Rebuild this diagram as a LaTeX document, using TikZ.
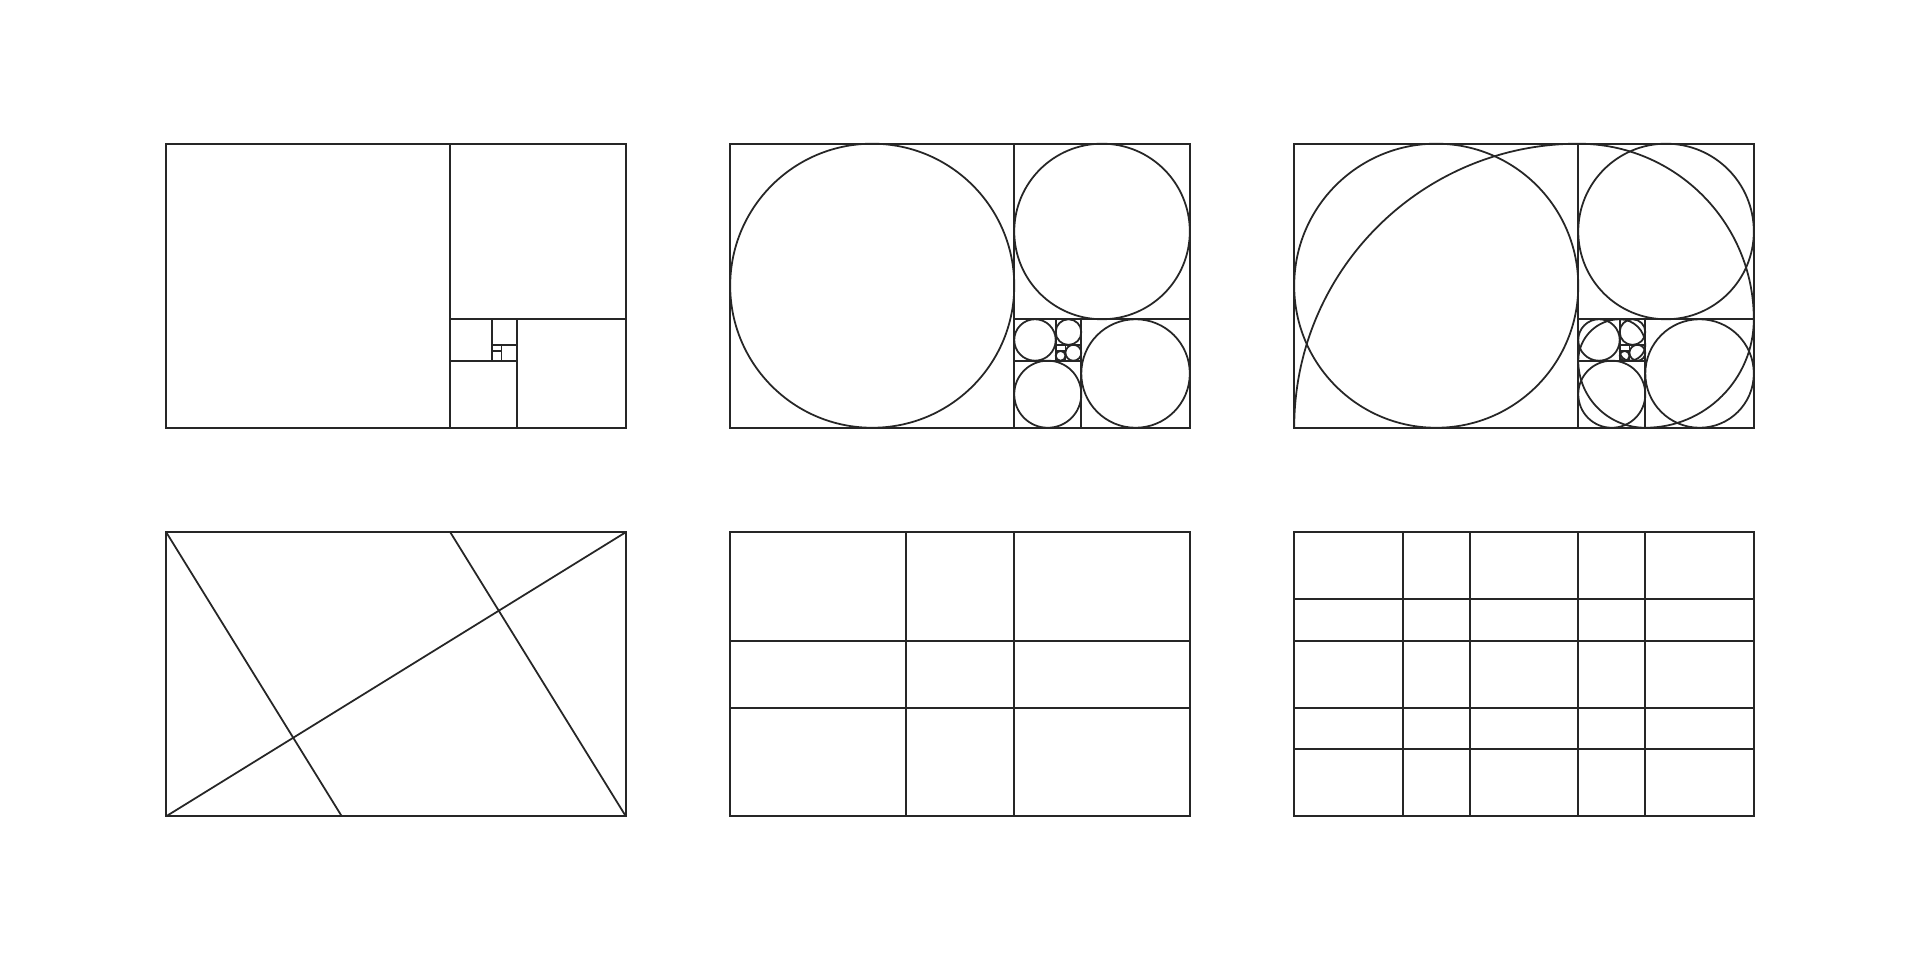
\documentclass[tikz,border=0pt]{standalone}
\newcommand\goldsquares{%
  \draw[ln] (0,0) rectangle (459.6,284.05);
  \draw[ln] (284.05,0) -- (284.05,284.05);
  \draw[ln] (284.05,175.55) -- (459.6,175.55);
  \draw[ln] (351.1,175.55) -- (351.1,284.05);
  \draw[ln] (284.05,217.0) -- (351.1,217.0);
  \draw[ln] (325.49,175.55) -- (325.49,217.0);
  \draw[ln] (325.49,201.16) -- (351.1,201.16);
  \draw[ln] (335.27,201.16) -- (335.27,217.0);
  \draw[ln] (325.49,207.22) -- (335.27,207.22);
}
\newcommand\goldcircles{%
  \draw[ln] (142.025,142.025) circle[radius=142.025];
  \draw[ln] (371.825,87.775) circle[radius=87.775];
  \draw[ln] (405.35,229.8) circle[radius=54.25];
  \draw[ln] (317.575,250.525) circle[radius=33.525];
  \draw[ln] (304.77,196.27) circle[radius=20.72];
  \draw[ln] (338.295,188.355) circle[radius=12.805];
  \draw[ln] (343.185,209.075) circle[radius=7.915];
  \draw[ln] (330.38,212.11) circle[radius=4.89];
}
\begin{document}
\begin{tikzpicture}[x=0.25mm,y=-0.25mm,
  ln/.style={draw=black!85, line width=0.44mm, line join=miter}]
\useasboundingbox (0,0) rectangle (1920,960);
\fill[white] (0,0) rectangle (1920,960);

% Panel 1: golden rectangle subdivision
\begin{scope}[shift={(166.2,143.7)}]
  \goldsquares
\end{scope}

% Panel 2: circles in squares
\begin{scope}[shift={(730.2,143.7)}]
  \goldsquares
  \goldcircles
\end{scope}

% Panel 3: circles and golden spiral
\begin{scope}[shift={(1294.2,143.7)}]
  \goldsquares
  \goldcircles
  \draw[ln] (0,284.05)
    arc[start angle=180, end angle=270, radius=284.05]
    arc[start angle=270, end angle=360, radius=175.55]
    arc[start angle=0, end angle=90, radius=108.5]
    arc[start angle=90, end angle=180, radius=67.05]
    arc[start angle=180, end angle=270, radius=41.44]
    arc[start angle=270, end angle=360, radius=25.61]
    arc[start angle=0, end angle=90, radius=15.83]
    arc[start angle=90, end angle=180, radius=9.78];
\end{scope}

% Panel 4: golden triangles
\begin{scope}[shift={(166.2,532.2)}]
  \draw[ln] (0,0) rectangle (459.6,284.05);
  \draw[ln] (0,284.05) -- (459.6,0);
  \draw[ln] (0,0) -- (175.55,284.05);
  \draw[ln] (284.05,0) -- (459.6,284.05);
\end{scope}

% Panel 5: phi grid
\begin{scope}[shift={(730.2,532.2)}]
  \draw[ln] (0,0) rectangle (459.6,284.05);
  \draw[ln] (175.55,0) -- (175.55,284.05);
  \draw[ln] (284.05,0) -- (284.05,284.05);
  \draw[ln] (0,108.5) -- (459.6,108.5);
  \draw[ln] (0,175.55) -- (459.6,175.55);
\end{scope}

% Panel 6: extended phi grid
\begin{scope}[shift={(1294.2,532.2)}]
  \draw[ln] (0,0) rectangle (459.6,284.05);
  \foreach \vx in {108.5,175.55,284.05,351.1}
    \draw[ln] (\vx,0) -- (\vx,284.05);
  \foreach \hy in {67.05,108.5,175.55,217.0}
    \draw[ln] (0,\hy) -- (459.6,\hy);
\end{scope}
\end{tikzpicture}
\end{document}
